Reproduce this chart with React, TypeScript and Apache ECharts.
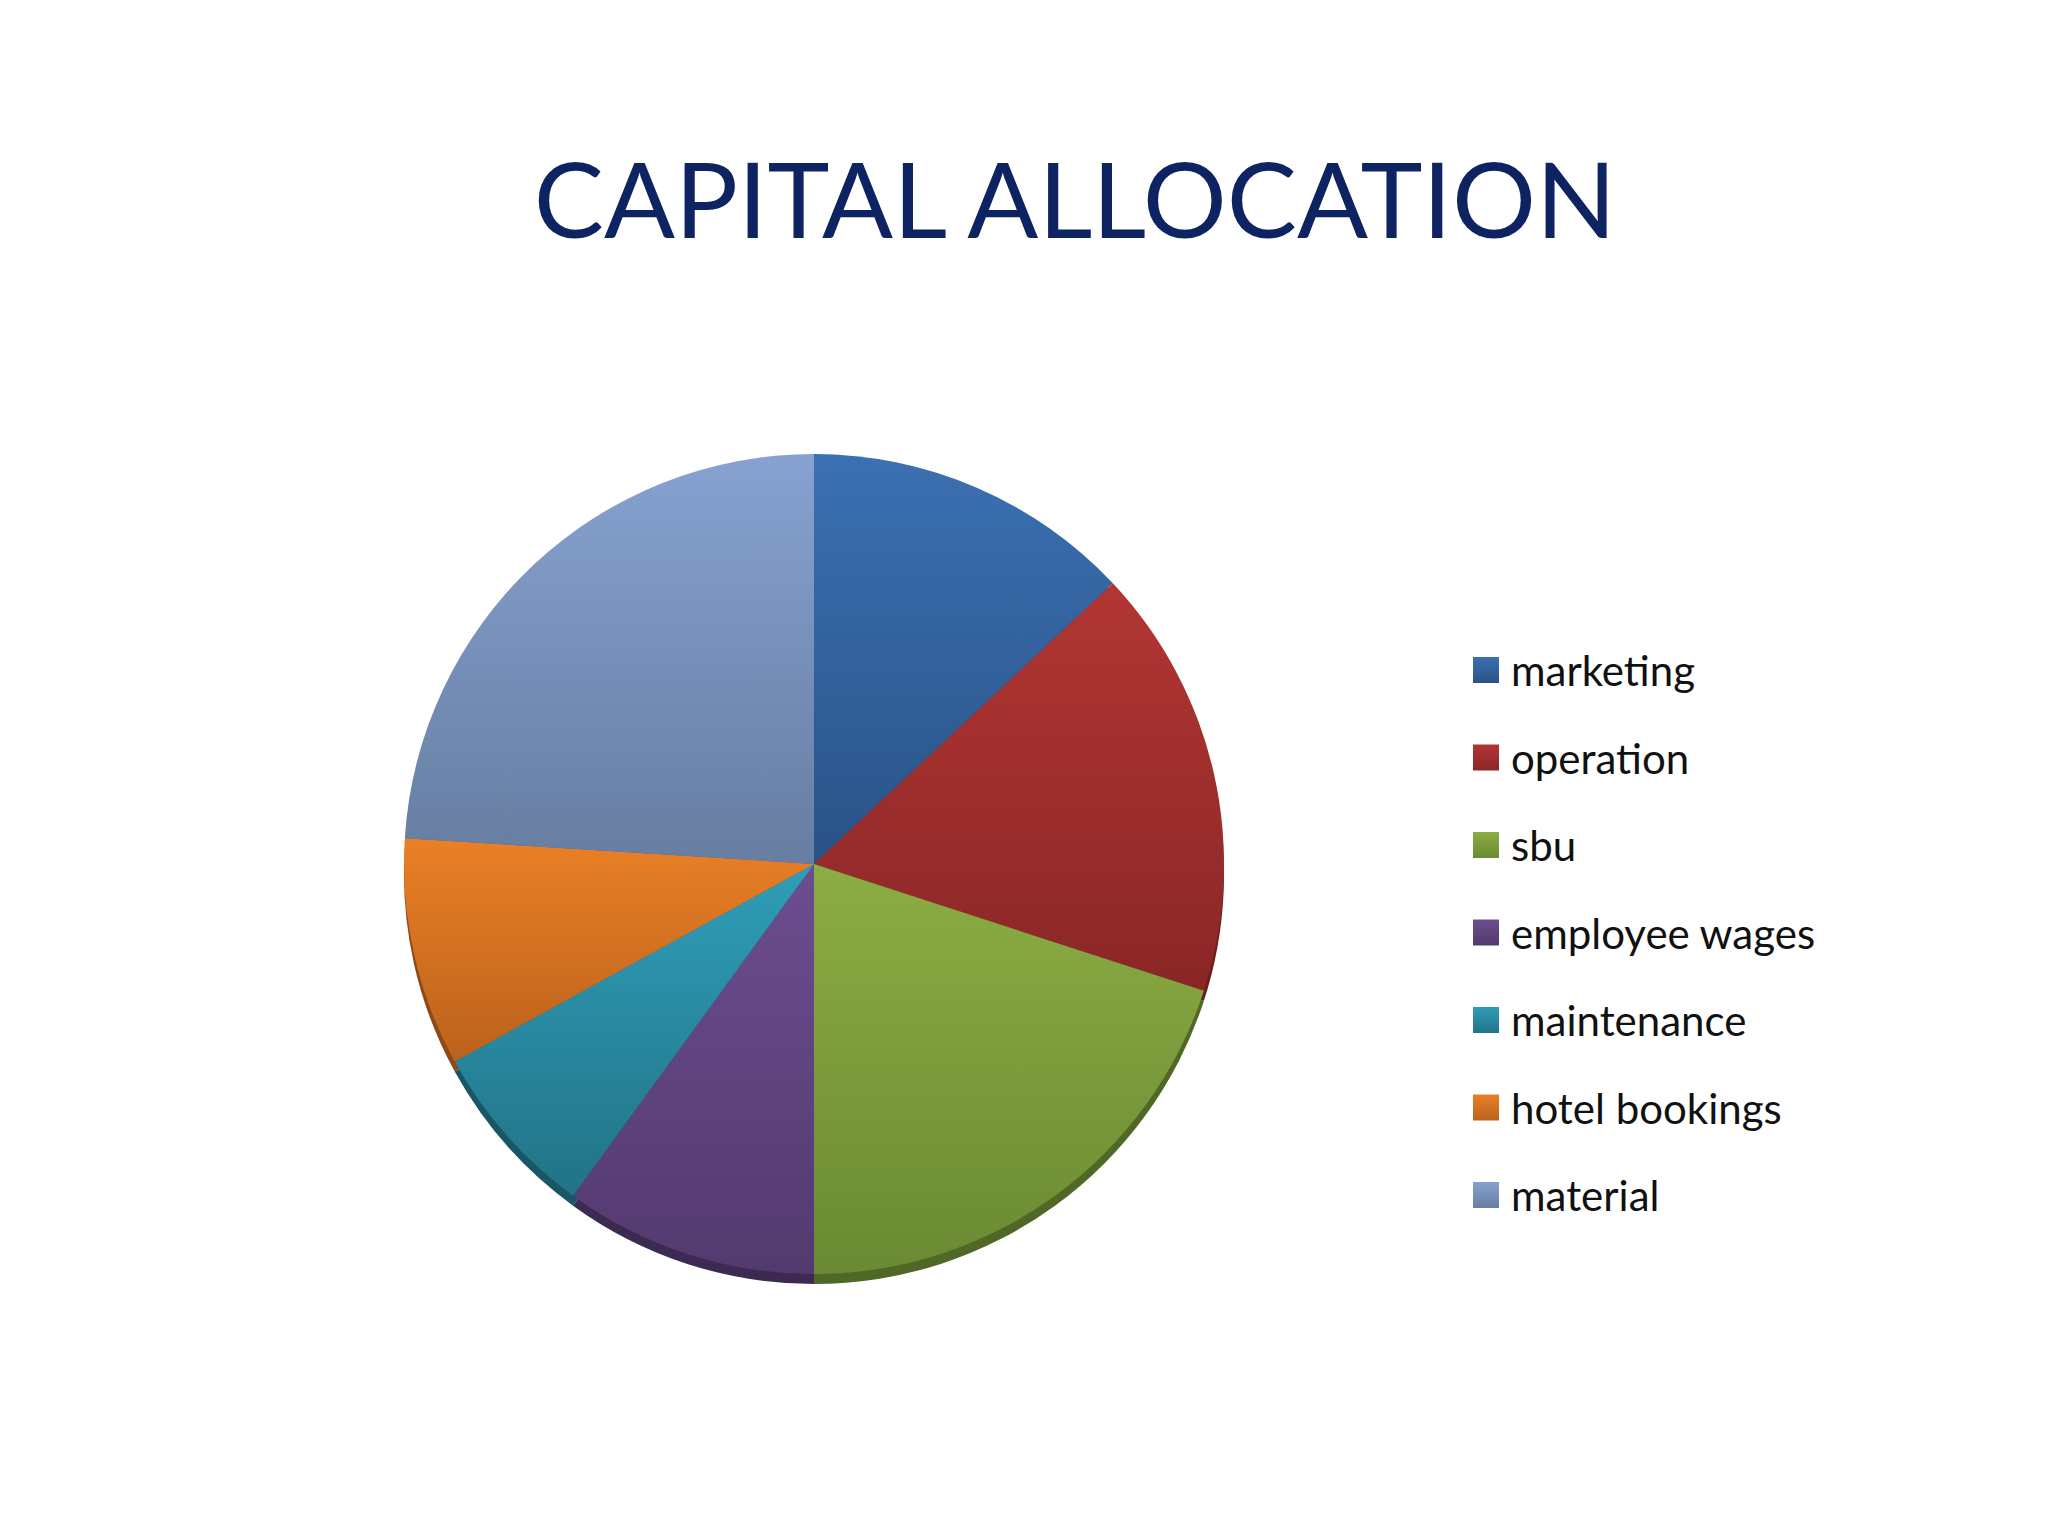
import React, { useEffect, useRef } from "react";
import * as echarts from "echarts";

const titleText = "CAPITAL ALLOCATION";
const categories = ["marketing", "operation", "sbu", "employee wages", "maintenance", "hotel bookings", "material"];
const values = [13, 17, 20, 10, 7, 9, 24];
const topColors = ["#3b70b2", "#b23633", "#8cad43", "#6c4d8f", "#2f9eb9", "#ea8026", "#87a2d1"];
const bottomColors = ["#2a5387", "#8a2627", "#6a8a33", "#533a6e", "#227386", "#bb621d", "#677da1"];
const rimColors = ["#1f3e66", "#6b1d1e", "#4f6826", "#3d2a52", "#195766", "#8e4a16", "#4e5f7a"];

export default function App() {
  const ref = useRef<HTMLDivElement>(null);
  useEffect(() => {
    document.body.style.margin = "0";
    const chart = echarts.init(ref.current!, undefined, { renderer: "svg" });
    const mainData = categories.map((name, i) => ({
      name,
      value: values[i],
      itemStyle: {
        color: new echarts.graphic.LinearGradient(0, 0, 0, 1, [
          { offset: 0, color: topColors[i] },
          { offset: 1, color: bottomColors[i] },
        ]),
      },
    }));
    const rimData = categories.map((name, i) => ({
      name,
      value: values[i],
      itemStyle: { color: rimColors[i] },
    }));
    chart.setOption({
      animation: false,
      backgroundColor: "#ffffff",
      title: {
        text: titleText,
        left: 1070,
        top: 139,
        textAlign: "center",
        textStyle: {
          fontFamily: "Lato",
          fontSize: 105,
          fontWeight: "normal",
          color: "#0e2361",
        },
      },
      legend: {
        orient: "vertical",
        left: 1468,
        top: 644,
        data: categories,
        icon: "rect",
        itemWidth: 26,
        itemHeight: 26,
        itemGap: 45.5,
        selectedMode: false,
        textStyle: {
          fontFamily: "Lato",
          fontSize: 42,
          lineHeight: 42,
          color: "#111111",
          padding: [0, 0, 0, 7],
        },
      },
      series: [
        {
          type: "pie",
          name: "capital",
          center: [814, 864],
          radius: [0, 410],
          startAngle: 90,
          clockwise: true,
          label: { show: false },
          labelLine: { show: false },
          itemStyle: { borderWidth: 0 },
          emphasis: { disabled: true },
          data: mainData,
          z: 2,
        },
        {
          type: "pie",
          name: "rim",
          silent: true,
          center: [814, 874],
          radius: [0, 410],
          startAngle: 90,
          clockwise: true,
          label: { show: false },
          labelLine: { show: false },
          itemStyle: { borderWidth: 0 },
          emphasis: { disabled: true },
          legendHoverLink: false,
          data: rimData,
          z: 1,
        },
      ],
    });
    return () => chart.dispose();
  }, []);
  return (
    <div
      ref={ref}
      style={{ position: "absolute", left: 0, top: 0, width: 2048, height: 1536 }}
    />
  );
}
